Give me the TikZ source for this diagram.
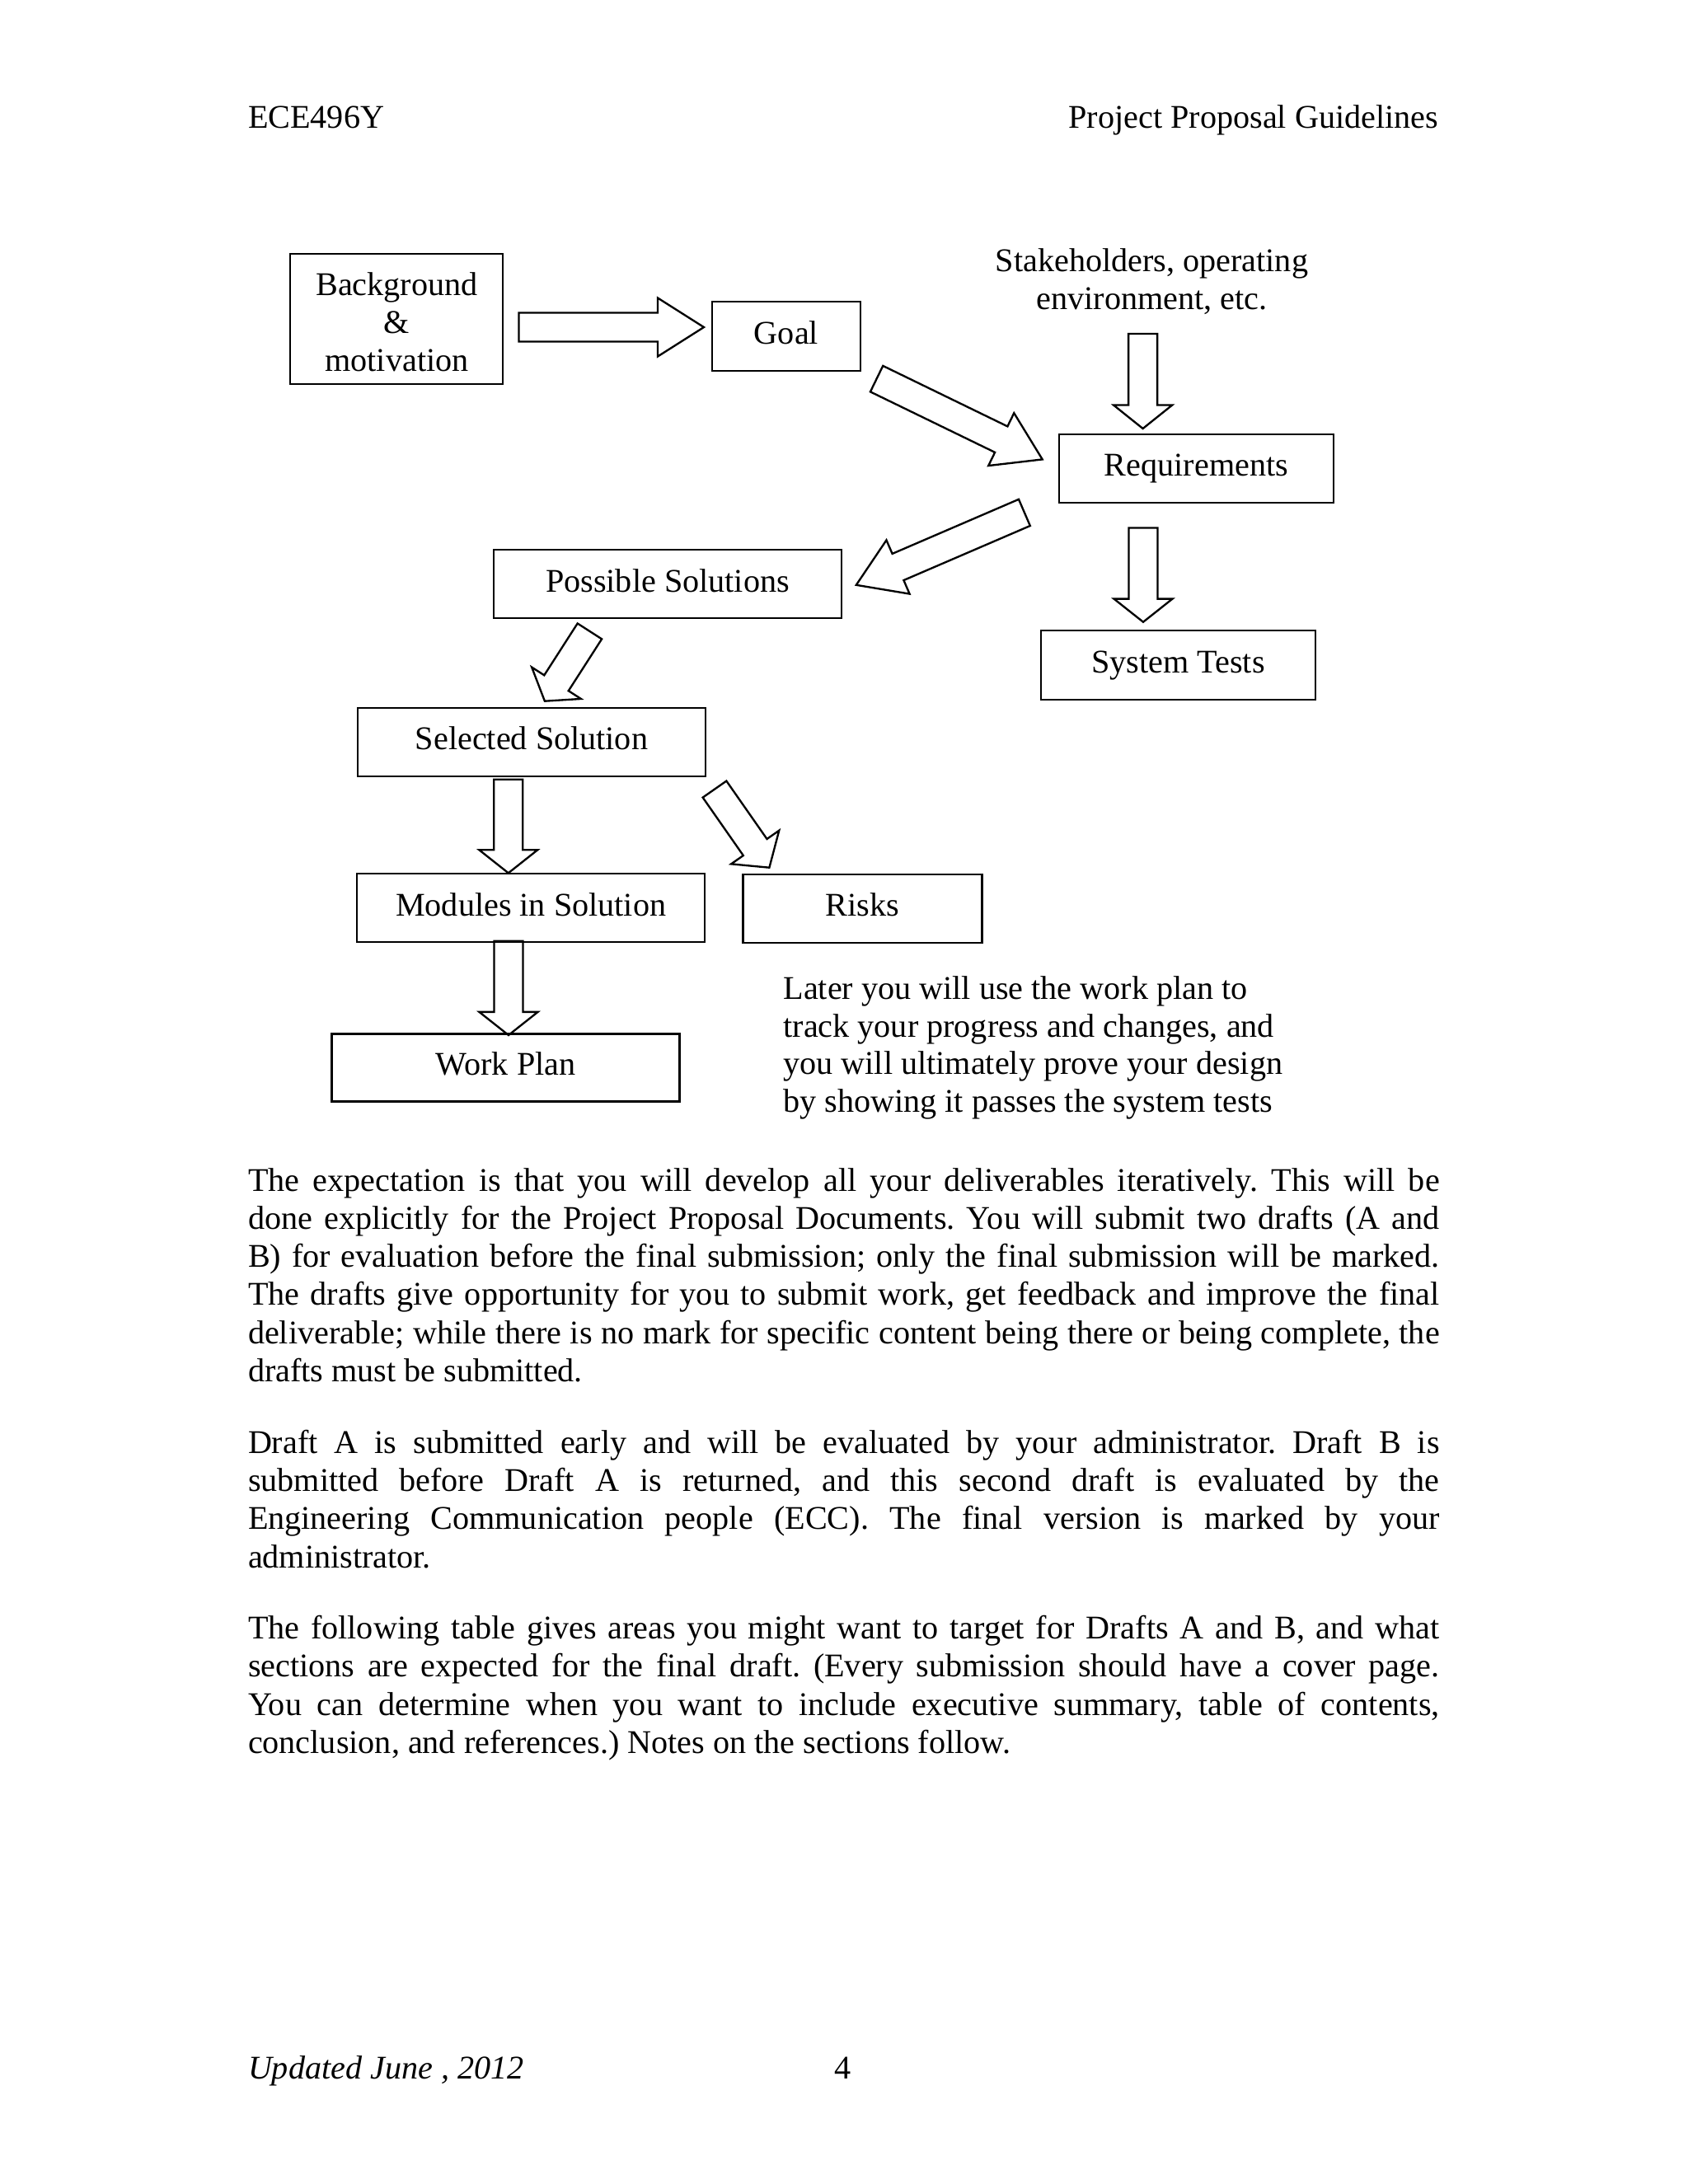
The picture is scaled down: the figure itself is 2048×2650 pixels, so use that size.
\documentclass[tikz,border=0pt]{standalone}
\usepackage{fontspec}
\setmainfont{Liberation Serif}
\usetikzlibrary{calc}
\newcommand\PX{0.29883pt}
\newcommand\bashw{5.23pt}
\newcommand\bahhw{10.61pt}
\tikzset{
  every node/.style={font=\fontsize{12pt}{13.8pt}\selectfont\frenchspacing, inner sep=0pt, outer sep=0pt},
  box/.style={draw, line width=0.7pt, text height=8pt, text depth=2.4pt},
  blockarr/.style={draw, line width=0.7pt, line join=miter},
  txt/.style={anchor=base west},
  ctxt/.style={anchor=base},
}
\newcommand{\blockarrow}[3]{%
  \coordinate (bah) at ($(#2)!#3!(#1)$);
  \draw[blockarr] ($(#1)!\bashw!90:(#2)$) -- ($(bah)!\bashw!90:(#2)$) -- ($(bah)!\bahhw!90:(#2)$) -- (#2)
     -- ($(bah)!\bahhw!270:(#2)$) -- ($(bah)!\bashw!270:(#2)$) -- ($(#1)!\bashw!270:(#2)$) -- cycle;}
\newcommand{\jline}[1]{\makebox[432pt][s]{#1}}
\begin{document}
\begin{tikzpicture}[x=0.29883pt, y=-0.29883pt]
\useasboundingbox (0,0) rectangle (2048,2650);
\fill[white] (0,0) rectangle (2048,2650);

% header / footer
\node[txt] (hl) at (301,155) {ECE496Y};
\node[anchor=base east] (hr) at (1745,155) {Project Proposal Guidelines};
\node[txt] (fl) at (301,2522) {\itshape Updated June , 2012};
\node[ctxt] (fp) at (1023,2522) {4};

% boxes
\node[box, minimum width=258*\PX, minimum height=158*\PX] (bg) at (481,387) {};
\node[ctxt] (bg1) at (481.5,358.3) {Background};
\node[ctxt] (bg2) at (481.5,404.3) {\&};
\node[ctxt] (bg3) at (481.5,450.3) {motivation};
\node[box, minimum width=180*\PX, minimum height=84*\PX] (goal) at (954,408) {Goal};
\node[box, minimum width=333*\PX, minimum height=83*\PX] (req) at (1451.5,568.5) {Requirements};
\node[box, minimum width=333*\PX, minimum height=84*\PX] (sys) at (1429.5,806.8) {System Tests};
\node[box, minimum width=422*\PX, minimum height=83*\PX] (poss) at (810,708.7) {Possible Solutions};
\node[box, minimum width=422*\PX, minimum height=83*\PX] (sel) at (645,900.3) {Selected Solution};
\node[box, minimum width=422*\PX, minimum height=83*\PX] (mod) at (644.2,1101.7) {Modules in Solution};
\node[box, minimum width=290*\PX, minimum height=83*\PX] (risk) at (1046.5,1102.5) {Risks};
\node[box, minimum width=422*\PX, minimum height=82*\PX] (work) at (613.6,1295.5) {Work Plan};

\node[ctxt] (st1) at (1397.5,329.4) {Stakeholders, operating};
\node[ctxt] (st2) at (1397.5,375) {environment, etc.};

% block arrows
\coordinate (a1t) at (629.5,397);   \coordinate (a1h) at (854,397);
\coordinate (a2t) at (1063.6,459.6);\coordinate (a2h) at (1264.7,557.4);
\coordinate (a3t) at (1386.6,405);  \coordinate (a3h) at (1386.6,520);
\coordinate (a4t) at (1387,640.5);  \coordinate (a4h) at (1387,754.7);
\coordinate (a5t) at (1242.9,621.9);\coordinate (a5h) at (1038.8,709.8);
\coordinate (a6t) at (715.4,765.9); \coordinate (a6h) at (660.9,850.7);
\coordinate (a7t) at (867,957.6);   \coordinate (a7h) at (933.4,1052.7);
\coordinate (a8t) at (616.8,945.7); \coordinate (a8h) at (616.8,1059.3);
\coordinate (a9t) at (617,1141.7);  \coordinate (a9h) at (617,1256);
\blockarrow{a1t}{a1h}{16.73pt}
\blockarrow{a2t}{a2h}{16.6pt}
\blockarrow{a3t}{a3h}{8.5pt}
\blockarrow{a4t}{a4h}{8.4pt}
\blockarrow{a5t}{a5h}{16.5pt}
\blockarrow{a6t}{a6h}{7.8pt}
\blockarrow{a7t}{a7h}{9pt}
\blockarrow{a8t}{a8h}{8.4pt}
\blockarrow{a9t}{a9h}{8.4pt}

% side note
\node[txt] (n1) at (950.5,1212.6) {Later you will use the work plan to};
\node[txt] (n2) at (950.5,1258.2) {track your progress and changes, and};
\node[txt] (n3) at (950.5,1303.8) {you will ultimately prove your design};
\node[txt] (n4) at (950.5,1349.4) {by showing it passes the system tests};

% paragraph 1
\node[txt] (p11) at (301,1445) {\jline{The expectation is that you will develop all your deliverables iteratively. This will be}};
\node[txt] (p12) at (301,1491.3) {\jline{done explicitly for the Project Proposal Documents. You will submit two drafts (A and}};
\node[txt] (p13) at (301,1537.6) {\jline{B) for evaluation before the final submission; only the final submission will be marked.}};
\node[txt] (p14) at (301,1583.9) {\jline{The drafts give opportunity for you to submit work, get feedback and improve the final}};
\node[txt] (p15) at (301,1630.2) {\jline{deliverable; while there is no mark for specific content being there or being complete, the}};
\node[txt] (p16) at (301,1676.5) {drafts must be submitted.};

% paragraph 2
\node[txt] (p21) at (301,1763.3) {\jline{Draft A is submitted early and will be evaluated by your administrator. Draft B is}};
\node[txt] (p22) at (301,1809.6) {\jline{submitted before Draft A is returned, and this second draft is evaluated by the}};
\node[txt] (p23) at (301,1855.9) {\jline{Engineering Communication people (ECC). The final version is marked by your}};
\node[txt] (p24) at (301,1902.2) {administrator.};

% paragraph 3
\node[txt] (p31) at (301,1988.5) {\jline{The following table gives areas you might want to target for Drafts A and B, and what}};
\node[txt] (p32) at (301,2034.8) {\jline{sections are expected for the final draft. (Every submission should have a cover page.}};
\node[txt] (p33) at (301,2081.1) {\jline{You can determine when you want to include executive summary, table of contents,}};
\node[txt] (p34) at (301,2127.4) {conclusion, and references.) Notes on the sections follow.};
\end{tikzpicture}
\end{document}
